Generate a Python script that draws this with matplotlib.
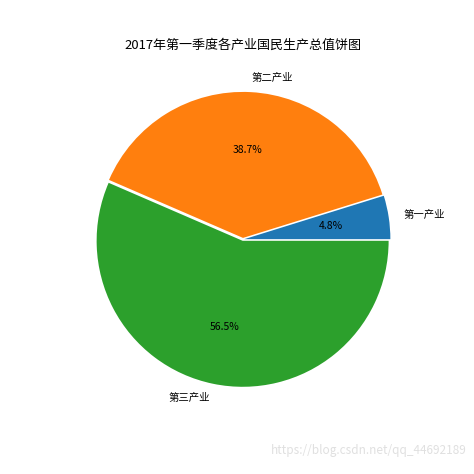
import matplotlib
matplotlib.use("Agg")
import matplotlib.pyplot as plt

plt.rcParams['font.family'] = ['Noto Sans CJK SC', 'DejaVu Sans']
plt.rcParams['axes.unicode_minus'] = False

# 2017 Q1 share of GDP by industry (percent)
labels = ["第一产业", "第二产业", "第三产业"]
values = [4.8, 38.7, 56.5]
explode = [0.01, 0.01, 0.01]
colors = ["#1f77b4", "#ff7f0e", "#2ca02c"]

fig, ax = plt.subplots(figsize=(4.74, 4.74), dpi=100)
wedges, texts, autotexts = ax.pie(values, labels=labels, explode=explode,
                                  colors=colors, autopct="%1.1f%%",
                                  textprops=dict(fontsize=7.5))
ax.set_title("2017年第一季度各产业国民生产总值饼图", fontsize=9.4)

fig.text(0.985, 0.035, "https://blog.csdn.net/qq_44692189", ha="right",
         va="bottom", fontsize=8.5, color="#e0e0e0")

fig.savefig("out.png", dpi=100)
